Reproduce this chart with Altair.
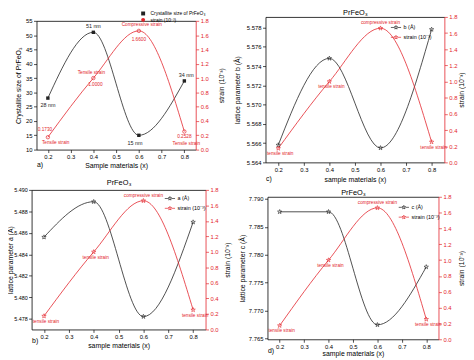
import altair as alt
import pandas as pd

# ---------- data ----------
x_vals = [0.2, 0.4, 0.6, 0.8]
x_ticks = [0.2, 0.3, 0.4, 0.5, 0.6, 0.7, 0.8]

strain = [0.173, 1.0, 1.66, 0.2528]
strain_ticks = [0.0, 0.2, 0.4, 0.6, 0.8, 1.0, 1.2, 1.4, 1.6, 1.8]
strain_value_text = ["0.1730", "1.0000", "1.6600", "0.2528"]
strain_kind_a = ["Tensile strain", "Tensile strain", "Compressive strain", "Tensile strain"]
strain_kind = ["tensile strain", "tensile strain", "compressive strain", "tensile strain"]

cryst_size = [28, 51, 15, 34]
cryst_text = ["28 nm", "51 nm", "15 nm", "34 nm"]
cryst_ticks = [10, 15, 20, 25, 30, 35, 40, 45, 50, 55]

lattice_a = [5.4856, 5.4889, 5.4782, 5.4870]
lattice_a_ticks = [5.478, 5.480, 5.482, 5.484, 5.486, 5.488, 5.490]
lattice_b = [5.5658, 5.5748, 5.5655, 5.5778]
lattice_b_ticks = [5.564, 5.566, 5.568, 5.570, 5.572, 5.574, 5.576, 5.578]
lattice_c = [7.7877, 7.7877, 7.7674, 7.7778]
lattice_c_ticks = [7.765, 7.770, 7.775, 7.780, 7.785, 7.790]

STRAIN_NAME = "strain (10⁻³)"

# ---------- styling ----------
W, H = 466, 352
FONT = "Liberation Sans"
RED = "#e3242b"
BLACK = "#222222"
STAR = ("M0,-1L0.235,-0.324L0.951,-0.309L0.38,0.124L0.588,0.809L0,0.4"
        "L-0.588,0.809L-0.38,0.124L-0.951,-0.309L-0.235,-0.324Z")
LINE_STAR = "M-2.6,0L-1,0M1,0L2.6,0" + STAR


def base_axis(**kw):
    d = dict(labelFont=FONT, titleFont=FONT, labelFontSize=6, titleFontSize=7,
             titleFontWeight="normal", tickSize=3, tickWidth=0.7, domainWidth=0.8,
             domainColor="black", tickColor="black", labelColor="black",
             titleColor="black", grid=False, labelPadding=1.5,
             labelFlush=False, labelOverlap=False)
    d.update(kw)
    return alt.Axis(**d)


def panel(P):
    xr, yr = P["xr"], P["yr"]

    def xs():
        return alt.Scale(domain=[0.15, 0.85], range=xr, nice=False, zero=False)

    def yls():
        return alt.Scale(domain=P["ldom"], range=yr, nice=False, zero=False)

    def yrs():
        return alt.Scale(domain=[0, 1.8], range=yr, nice=False, zero=False)

    def cs():
        return alt.Scale(domain=[P["bname"], STRAIN_NAME], range=[BLACK, RED])

    ldf = pd.DataFrame({"x": x_vals, "y": P["lvals"], "series": P["bname"],
                        "lab": P["llabels"]})
    rdf = pd.DataFrame({"x": x_vals, "y": strain, "series": STRAIN_NAME,
                        "kind": P["kinds"], "val": strain_value_text})

    bottom_axis = base_axis(orient="bottom", offset=yr[0] - H, values=x_ticks,
                            format=".1f", title=P["xtitle"], titlePadding=P["xtp"])
    left_axis = base_axis(orient="left", offset=-xr[0], values=P["lticks"],
                          format=P["lfmt"], title=P["ltitle"],
                          titlePadding=P["ltp"], labelFontSize=P.get("lfs", 6))
    right_axis = base_axis(orient="right", offset=xr[1] - W, values=strain_ticks,
                           format=".1f", title=STRAIN_NAME, titlePadding=P["rtp"],
                           titleAngle=270, titleBaseline="top",
                           domainColor=RED, tickColor=RED, labelColor=RED)
    top_kw = dict(orient="top", offset=-yr[1], labels=False, ticks=False)
    if P["title"]:
        top_kw.update(title=P["title"], titleFontSize=7.5, titlePadding=P["ttp"])
    else:
        top_kw.update(title="")
    top_axis = base_axis(**top_kw)
    tag_axis = base_axis(orient="bottom", offset=yr[0] - H, labels=False,
                         ticks=False, domain=False, title=P["tag"],
                         titleAnchor="start", titleAlign="left",
                         titleY=P["tagy"], titleBaseline="middle")

    leg_kw = dict(orient="none", legendX=P["lx"], legendY=P["ly"], title=None,
                  labelFont=FONT, labelFontSize=P.get("lgfs", 5.5), symbolSize=16,
                  symbolStrokeWidth=0.7, labelOffset=5, rowPadding=P.get("lgrp", 2),
                  padding=0)
    if P["shapes"] is None:
        leg_kw.update(symbolType=LINE_STAR)
    legend = alt.Legend(**leg_kw)

    layers = []
    layers.append(alt.Chart(ldf).mark_line(
        color=BLACK, strokeWidth=0.8, interpolate="monotone"
    ).encode(x=alt.X("x:Q", scale=xs(), axis=bottom_axis),
             y=alt.Y("y:Q", scale=yls(), axis=left_axis)))
    layers.append(alt.Chart(rdf).mark_line(
        color=RED, strokeWidth=0.8, interpolate="monotone"
    ).encode(x=alt.X("x:Q", scale=xs(), axis=tag_axis),
             y=alt.Y("y:Q", scale=yrs(), axis=right_axis)))

    if P["shapes"] is None:
        lp_mark = dict(shape=STAR, filled=False, size=22, strokeWidth=0.6, opacity=1)
        rp_mark = dict(shape=STAR, filled=False, size=22, strokeWidth=0.6, opacity=1)
        lp_enc = dict(color=alt.Color("series:N", scale=cs(), legend=legend))
        rp_enc = dict(color=alt.Color("series:N", scale=cs(), legend=None))
    else:
        def ss():
            return alt.Scale(domain=[P["bname"], STRAIN_NAME], range=P["shapes"])
        lp_mark = dict(filled=True, size=12, opacity=1)
        rp_mark = dict(filled=False, size=12, strokeWidth=0.7, opacity=1)
        lp_enc = dict(color=alt.Color("series:N", scale=cs(), legend=legend),
                      shape=alt.Shape("series:N", scale=ss(), legend=legend))
        rp_enc = dict(color=alt.Color("series:N", scale=cs(), legend=None),
                      shape=alt.Shape("series:N", scale=ss(), legend=None))

    layers.append(alt.Chart(ldf).mark_point(**lp_mark).encode(
        x=alt.X("x:Q", scale=xs(), axis=top_axis),
        y=alt.Y("y:Q", scale=yls(), axis=None), **lp_enc))
    layers.append(alt.Chart(rdf).mark_point(**rp_mark).encode(
        x=alt.X("x:Q", scale=xs(), axis=None),
        y=alt.Y("y:Q", scale=yrs(), axis=None), **rp_enc))

    for side, field, xl, dx, dy in P["ann"]:
        df = ldf if side == "L" else rdf
        ys = yls() if side == "L" else yrs()
        color = BLACK if side == "L" else RED
        size = 5.5 if side == "L" else 4.8
        layers.append(alt.Chart(df).transform_filter(
            alt.FieldOneOfPredicate(field="x", oneOf=xl)
        ).mark_text(dx=dx, dy=dy, color=color, fontSize=size, font=FONT).encode(
            x=alt.X("x:Q", scale=xs(), axis=None),
            y=alt.Y("y:Q", scale=ys, axis=None),
            text=alt.Text(f"{field}:N"),
        ))
    return layers


common_ann = [("R", "kind", [0.2, 0.4, 0.8], 2, 6), ("R", "kind", [0.6], 0, -5)]

PA = dict(xr=[29, 191], yr=[141, 10], ldom=[10, 55], lticks=cryst_ticks, lfmt="d",
          ltitle="Crystallite size of PrFeO₃", lvals=cryst_size, llabels=cryst_text,
          bname="Crystallite size of PrFeO₃", kinds=strain_kind_a,
          xtitle="Sample materials (x)",
          ltp=4, rtp=9, xtp=2, ttp=0, title="", tag="a)", tagy=15,
          lx=135, ly=0, lgfs=5, lgrp=0.5, shapes=["square", "circle"],
          ann=[("L", "lab", [0.2], 0, 7), ("L", "lab", [0.4], 0, -6),
               ("L", "lab", [0.6], -4, 8), ("L", "lab", [0.8], 2, -6),
               ("R", "val", [0.2], -3, -7), ("R", "kind", [0.2], 8, 6),
               ("R", "kind", [0.4], -2, -5), ("R", "val", [0.4], 2, 7),
               ("R", "kind", [0.6], 3, -6), ("R", "val", [0.6], 0, 9),
               ("R", "val", [0.8], 0, 6), ("R", "kind", [0.8], 2, 13)])

PC = dict(xr=[262, 444], yr=[154, 6], ldom=[5.564, 5.5791], lticks=lattice_b_ticks,
          lfmt=".3f", ltitle="lattice parameter b (Å)", lvals=lattice_b,
          llabels=["", "", "", ""], bname="b (Å)", kinds=strain_kind,
          xtitle="sample materials (x)",
          ltp=6, rtp=0.5, xtp=3, ttp=0, title="PrFeO₃", tag="c)", tagy=16,
          lx=392, ly=14, shapes=None, ann=common_ann)

PB = dict(xr=[24, 201], yr=[324, 182], ldom=[5.477, 5.490], lticks=lattice_a_ticks,
          lfmt=".3f", ltitle="lattice parameter a (Å)", lvals=lattice_a,
          llabels=["", "", "", ""], bname="a (Å)", kinds=strain_kind,
          xtitle="sample materials (x)",
          ltp=0.5, rtp=5.5, xtp=2, ttp=3.5, title="PrFeO₃", tag="b)", tagy=11,
          lx=162, ly=188, shapes=None, ann=common_ann, lfs=5.5)

PD = dict(xr=[264, 438], yr=[334, 189], ldom=[7.7648, 7.7904], lticks=lattice_c_ticks,
          lfmt=".3f", ltitle="lattice parameter c (Å)", lvals=lattice_c,
          llabels=["", "", "", ""], bname="c (Å)", kinds=strain_kind,
          xtitle="sample materials (x)",
          ltp=3.3, rtp=7, xtp=0, ttp=0.5, title="PrFeO₃", tag="d)", tagy=11,
          lx=400, ly=197, shapes=None, ann=common_ann)

all_layers = panel(PA) + panel(PC) + panel(PB) + panel(PD)

chart = alt.layer(*all_layers).resolve_scale(
    x="independent", y="independent", color="independent", shape="independent"
).resolve_axis(x="independent", y="independent").resolve_legend(
    color="independent", shape="independent"
).properties(width=W, height=H, padding=0, autosize="none").configure_view(stroke=None)

chart.save("out.html", embed_options={"renderer": "svg", "actions": False})
